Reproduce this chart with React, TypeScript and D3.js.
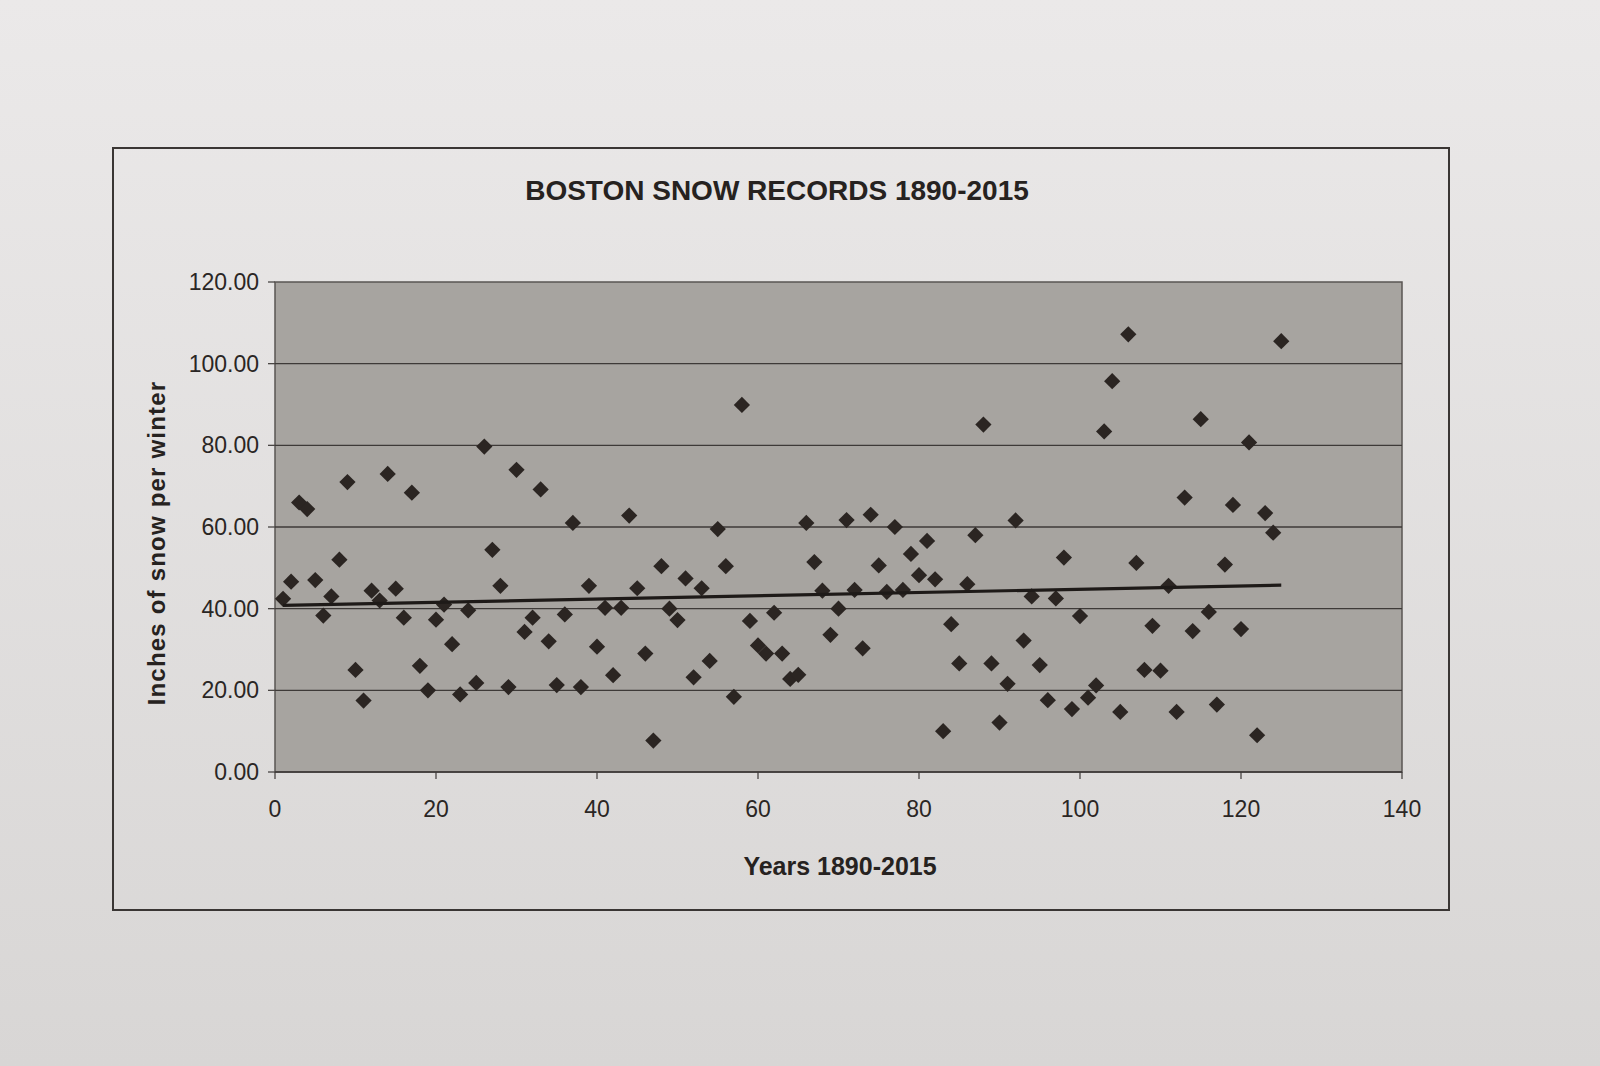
import React from "react";
import * as d3 from "d3";

const years: number[] = Array.from({ length: 125 }, (_, i) => i + 1);
const snow: number[] = [
  42.4, 46.6, 66, 64.4, 47, 38.3, 43, 52, 71, 25,
  17.5, 44.4, 42, 73, 44.9, 37.8, 68.4, 26, 20, 37.3,
  41, 31.3, 19, 39.6, 21.8, 79.7, 54.4, 45.6, 20.8, 74,
  34.3, 37.8, 69.2, 32, 21.3, 38.6, 61, 20.8, 45.6, 30.7,
  40.2, 23.7, 40.2, 62.8, 45.0, 29.0, 7.7, 50.4, 40.0, 37.2,
  47.4, 23.2, 45.0, 27.2, 59.5, 50.4, 18.4, 89.9, 37.0, 31,
  29, 39, 29, 22.8, 23.8, 61, 51.4, 44.4, 33.6, 40,
  61.7, 44.6, 30.3, 63, 50.6, 44.1, 60, 44.6, 53.4, 48.2,
  56.6, 47.2, 10, 36.2, 26.6, 46, 58, 85.1, 26.6, 12.1,
  21.6, 61.6, 32.2, 43, 26.2, 17.6, 42.5, 52.5, 15.4, 38.2,
  18.2, 21.2, 83.4, 95.7, 14.7, 107.2, 51.2, 25, 35.8, 24.8,
  45.6, 14.7, 67.2, 34.5, 86.4, 39.2, 16.5, 50.8, 65.4, 35,
  80.7, 9, 63.4, 58.6, 105.5,
];
const yTicks: number[] = [0, 20, 40, 60, 80, 100, 120];
const xTicks: number[] = [0, 20, 40, 60, 80, 100, 120, 140];
const title = "BOSTON SNOW RECORDS 1890-2015";
const xTitle = "Years 1890-2015";
const yTitle = "Inches of snow per winter";

export default function App() {
  const W = 1600, H = 1066;
  const L = 275, R = 1402, T = 282, B = 772;
  const x = d3.scaleLinear().domain([0, 140]).range([L, R]);
  const y = d3.scaleLinear().domain([0, 120]).range([B, T]);

  // least squares trend line
  const n = years.length;
  const mx = d3.mean(years) as number;
  const my = d3.mean(snow) as number;
  let sxy = 0, sxx = 0;
  years.forEach((xi, i) => { sxy += (xi - mx) * (snow[i] - my); sxx += (xi - mx) * (xi - mx); });
  const slope = sxy / sxx;
  const icpt = my - slope * mx;
  const x0 = years[0], x1 = years[n - 1];
  const trend = d3.line<number>().x((d) => x(d)).y((d) => y(icpt + slope * d))([x0, x1]) as string;

  const diamond = d3.symbol().type(d3.symbolSquare).size(132)() as string;
  const font = "'Liberation Sans', Arial, sans-serif";

  return (
    <svg width={W} height={H} style={{ position: "absolute", left: 0, top: 0 }} fontFamily={font}>
      <defs>
        <linearGradient id="paper" x1="0" y1="0" x2="0" y2="1">
          <stop offset="0" stopColor="#ebe9e9" />
          <stop offset="1" stopColor="#d8d6d5" />
        </linearGradient>
      </defs>
      <rect x={0} y={0} width={W} height={H} fill="url(#paper)" />
      <rect x={113} y={148} width={1336} height={762} fill="none" stroke="#3a3634" strokeWidth={2} />
      <text x={777} y={200} textAnchor="middle" fontSize={28} fontWeight="bold" fill="#262220">{title}</text>

      <rect x={L} y={T} width={R - L} height={B - T} fill="#a7a4a0" stroke="#5a5653" strokeWidth={1.5} />
      {yTicks.filter((t) => t > 0 && t < 120).map((t) => (
        <line key={"g" + t} x1={L} x2={R} y1={y(t)} y2={y(t)} stroke="#3e3a38" strokeWidth={1.3} />
      ))}
      {yTicks.map((t) => (
        <g key={"y" + t}>
          <line x1={L - 7} x2={L} y1={y(t)} y2={y(t)} stroke="#4a4644" strokeWidth={1.3} />
          <text x={L - 16} y={y(t) + 8} textAnchor="end" fontSize={23} fill="#2a2624">{t.toFixed(2)}</text>
        </g>
      ))}
      {xTicks.map((t) => (
        <g key={"x" + t}>
          <line x1={x(t)} x2={x(t)} y1={B} y2={B + 7} stroke="#4a4644" strokeWidth={1.3} />
          <text x={x(t)} y={817} textAnchor="middle" fontSize={23} fill="#2a2624">{t}</text>
        </g>
      ))}
      <line x1={L} x2={R} y1={B} y2={B} stroke="#3a3634" strokeWidth={1.5} />

      {years.map((yr, i) => (
        <path key={"p" + yr} d={diamond} transform={`translate(${x(yr)},${y(snow[i])}) rotate(45)`} fill="#2b2522" />
      ))}
      <path d={trend} fill="none" stroke="#1e1a18" strokeWidth={3.2} />

      <text x={840} y={875} textAnchor="middle" fontSize={25} fontWeight="bold" fill="#262220">{xTitle}</text>
      <text transform={`translate(165,543) rotate(-90)`} textAnchor="middle" fontSize={24} fontWeight="bold" letterSpacing={1.2} fill="#262220">{yTitle}</text>
    </svg>
  );
}
